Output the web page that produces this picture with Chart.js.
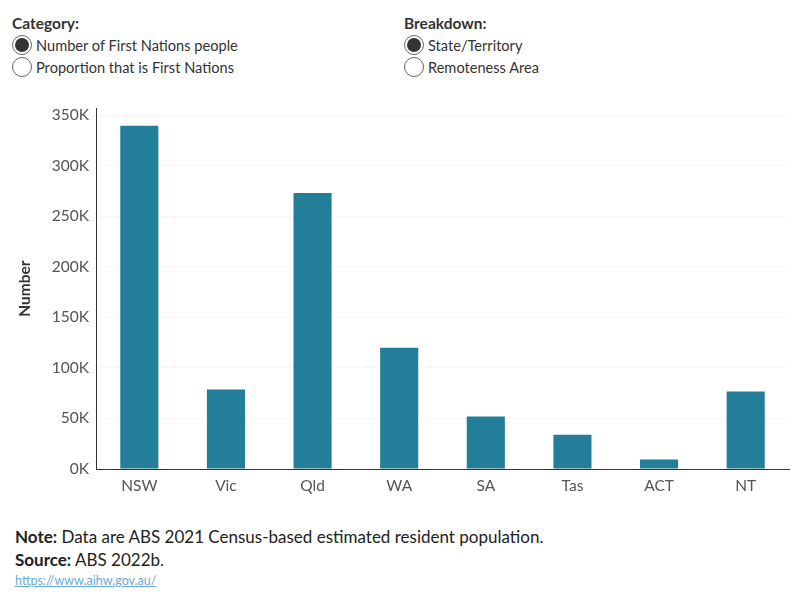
<!DOCTYPE html>
<html>
<head>
<meta charset="utf-8">
<script src="https://cdn.jsdelivr.net/npm/chart.js"></script>
<style>
  body { margin: 0; background: #fff; font-family: Lato, "Open Sans", sans-serif; color: #333; }
  #page { position: relative; width: 800px; height: 600px; overflow: hidden; }
  .group { position: absolute; top: 14px; }
  .group h4 { margin: 0 0 2px 0; font-size: 15.5px; font-weight: bold; color: #333; }
  .opt { display: flex; align-items: center; height: 22px; font-size: 14.6px; color: #333; }
  .radio { width: 20px; height: 20px; border: 1px solid #666; border-radius: 50%; box-sizing: border-box; margin-right: 4px; position: relative; background: #fff; }
  .radio.on::after { content: ""; position: absolute; left: 2px; top: 2px; width: 14px; height: 14px; border-radius: 50%; background: #333; }
  #chartBox { position: absolute; left: 0; top: 92px; width: 800px; height: 408px; }
  #foot { position: absolute; left: 15px; top: 526px; font-size: 17px; color: #222; }
  #foot p { margin: 0 0 2px 0; }
  #foot a { font-size: 12.5px; color: #6aa9d4; position: relative; top: -4px; }
</style>
</head>
<body>
<div id="page">
  <div class="group" style="left:12px">
    <h4>Category:</h4>
    <div class="opt"><span class="radio on"></span>Number of First Nations people</div>
    <div class="opt"><span class="radio"></span>Proportion that is First Nations</div>
  </div>
  <div class="group" style="left:404px">
    <h4>Breakdown:</h4>
    <div class="opt"><span class="radio on"></span>State/Territory</div>
    <div class="opt"><span class="radio"></span>Remoteness Area</div>
  </div>
  <div id="chartBox"><canvas id="barChart"></canvas></div>
  <div id="foot">
    <p><b>Note:</b> Data are ABS 2021 Census-based estimated resident population.</p>
    <p><b>Source:</b> ABS 2022b.</p>
    <a href="https://www.aihw.gov.au/">https://www.aihw.gov.au/</a>
  </div>
</div>
<script>
const states = ['NSW', 'Vic', 'Qld', 'WA', 'SA', 'Tas', 'ACT', 'NT'];
const soNguoi = [339710, 78696, 273119, 120006, 52069, 33858, 9525, 76736];
const yTicks = [0, 50000, 100000, 150000, 200000, 250000, 300000, 350000];

new Chart(document.getElementById('barChart'), {
    type: 'bar',
    data: {
        labels: states,
        datasets: [{
            label: 'Number',
            data: soNguoi,
            backgroundColor: '#237f99',
            categoryPercentage: 1,
            barPercentage: 0.44
        }]
    },
    options: {
        responsive: true,
        maintainAspectRatio: false,
        animation: false,
        layout: { padding: { top: 0, right: 11, left: 0, bottom: 0 } },
        plugins: { legend: { display: false }, tooltip: { enabled: false } },
        scales: {
            x: {
                grid: { display: false },
                border: { display: true, color: '#333', width: 1 },
                ticks: { color: '#555', font: { family: 'Lato', size: 15.5 }, padding: 0 },
                afterFit: s => { s.height = 31; }
            },
            y: {
                min: 0,
                max: 357000,
                afterBuildTicks: s => { s.ticks = yTicks.map(v => ({ value: v })); },
                grid: { color: '#e2e2e2', drawTicks: false, lineWidth: 1 },
                border: { display: true, color: '#333', width: 1, dash: [1, 3] },
                ticks: {
                    color: '#555',
                    padding: 7,
                    font: { family: 'Lato', size: 15.5 },
                    callback: v => (v / 1000) + 'K'
                },
                // padding.top đẩy tiêu đề sang phải
                title: { display: true, text: 'Number', color: '#333', padding: { top: 16, bottom: 0 }, font: { family: 'Lato', size: 15.5, weight: 'bold' } },
                afterFit: s => { s.width = 96; }
            }
        }
    }
});
</script>
</body>
</html>
